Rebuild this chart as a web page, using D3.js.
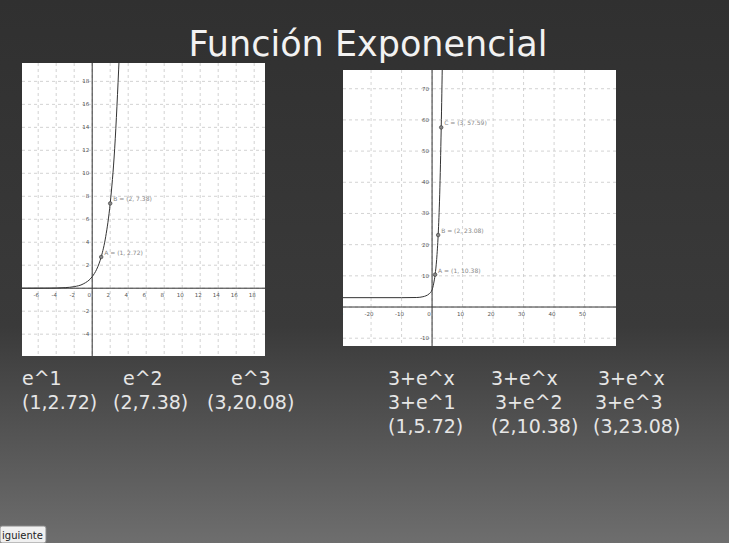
<!DOCTYPE html><html><head><meta charset="utf-8">
<script src="https://cdn.jsdelivr.net/npm/d3@7"></script>
<style>body{margin:0;overflow:hidden}</style></head><body>
<svg id="s" width="729" height="543"></svg>
<script>
const leftCurve=[[-8,0.0003],[-5,0.007],[-4,0.018],[-3,0.05],[-2,0.135],[-1,0.37],[0,1],[0.5,1.65],[1,2.72],[1.5,4.48],[2,7.38],[2.5,12.18],[3,20.08]];
const leftPts=[{x:1,y:2.72,l:"A = (1, 2.72)"},{x:2,y:7.38,l:"B = (2, 7.38)"}];
const leftXTicks=[-8,-6,-4,-2,0,2,4,6,8,10,12,14,16,18];
const leftYTicks=[-4,-2,0,2,4,6,8,10,12,14,16,18];
const rightCurve=[[-30,3],[-10,3],[-5,3.05],[-3,3.3],[-2,3.6],[-1,4.2],[0,5.5],[0.5,7.4],[1,10.38],[1.5,15.2],[2,23.08],[2.5,36],[3,57.59],[3.4,80]];
const rightPts=[{x:1,y:10.38,l:"A = (1, 10.38)"},{x:2,y:23.08,l:"B = (2, 23.08)"},{x:3,y:57.59,l:"C = (3, 57.59)"}];
const rightXTicks=[-30,-20,-10,0,10,20,30,40,50];
const rightYTicks=[-10,0,10,20,30,40,50,60,70];
const row1L=[["e^1",22],["e^2",123],["e^3",231]];
const row2L=[["(1,2.72)",22],["(2,7.38)",113],["(3,20.08)",207]];
const rowsR=[[["3+e^x",388],["3+e^x",491],["3+e^x",598]],[["3+e^1",388],["3+e^2",495],["3+e^3",595]],[["(1,5.72)",388],["(2,10.38)",491],["(3,23.08)",593]]];

const svg=d3.select("#s");
const g=svg.append("defs").append("linearGradient").attr("id","bg").attr("x1",0).attr("x2",0).attr("y1",0).attr("y2",1);
g.append("stop").attr("offset","0").attr("stop-color","#303030");
g.append("stop").attr("offset","0.6").attr("stop-color","#3a3a3a");
g.append("stop").attr("offset","1").attr("stop-color","#6e6e6e");
svg.append("rect").attr("width",729).attr("height",543).attr("fill","url(#bg)");
svg.append("text").attr("x",368).attr("y",56).attr("text-anchor","middle").attr("fill","#f2f2f2")
 .attr("font-family","DejaVu Sans").attr("font-size",35).text("Función Exponencial");

function panel(x0,y0,w,h,xd,yd,xt,yt,curve,pts){
  const p=svg.append("g").attr("transform",`translate(${x0},${y0})`);
  p.append("rect").attr("width",w).attr("height",h).attr("fill","#fff");
  const x=d3.scaleLinear().domain(xd).range([0,w]);
  const y=d3.scaleLinear().domain(yd).range([h,0]);
  p.append("clipPath").attr("id","c"+x0).append("rect").attr("width",w).attr("height",h);
  const q=p.append("g").attr("clip-path",`url(#c${x0})`);
  q.selectAll(".gx").data(xt).join("line").attr("x1",d=>x(d)).attr("x2",d=>x(d)).attr("y1",0).attr("y2",h).attr("stroke","#c8c8c8").attr("stroke-dasharray","3,3").attr("stroke-width",0.8);
  q.selectAll(".gy").data(yt).join("line").attr("y1",d=>y(d)).attr("y2",d=>y(d)).attr("x1",0).attr("x2",w).attr("stroke","#c8c8c8").attr("stroke-dasharray","3,3").attr("stroke-width",0.8);
  q.append("line").attr("x1",0).attr("x2",w).attr("y1",y(0)).attr("y2",y(0)).attr("stroke","#333");
  q.append("line").attr("y1",0).attr("y2",h).attr("x1",x(0)).attr("x2",x(0)).attr("stroke","#333");
  q.selectAll(".tx").data(xt).join("text").attr("x",d=>x(d)+(d===0?-3:-2)).attr("y",y(0)+9).attr("font-size",5.5).attr("fill","#555").attr("text-anchor","middle").attr("font-family","DejaVu Sans").text(d=>d);
  q.selectAll(".ty").data(yt.filter(d=>d!==0)).join("text").attr("x",x(0)-3).attr("y",d=>y(d)+2).attr("font-size",5.5).attr("fill","#555").attr("text-anchor","end").attr("font-family","DejaVu Sans").text(d=>d);
  q.append("path").datum(curve).attr("d",d3.line().x(d=>x(d[0])).y(d=>y(d[1])).curve(d3.curveMonotoneX)).attr("fill","none").attr("stroke","#333").attr("stroke-width",1);
  q.selectAll(".pt").data(pts).join("circle").attr("cx",d=>x(d.x)).attr("cy",d=>y(d.y)).attr("r",1.8).attr("fill","#888").attr("stroke","#333").attr("stroke-width",0.6);
  q.selectAll(".pl").data(pts).join("text").attr("x",d=>x(d.x)+3).attr("y",d=>y(d.y)-2).attr("font-size",6).attr("fill","#888").attr("font-family","DejaVu Sans").text(d=>d.l);
}
panel(22,63,243,293,[-7.8,19.2],[-5.9,19.6],leftXTicks,leftYTicks,leftCurve,leftPts);
panel(343,70,273,276,[-29.2,60.3],[-12.5,76],rightXTicks,rightYTicks,rightCurve,rightPts);

function txt(a,yy){a.forEach(([t,xx])=>svg.append("text").attr("x",xx).attr("y",yy).attr("fill","#e6e6e6").attr("font-family","DejaVu Sans").attr("font-size",19).text(t));}
txt(row1L,385);txt(row2L,409);
rowsR.forEach((r,i)=>txt(r,385+i*24));
svg.append("rect").attr("x",0).attr("y",526).attr("width",46).attr("height",17).attr("rx",2).attr("fill","#f0f0f0").attr("stroke","#888");
svg.append("text").attr("x",2).attr("y",539).attr("font-size",10).attr("font-family","DejaVu Sans").attr("fill","#222").text("iguiente");
</script></body></html>
